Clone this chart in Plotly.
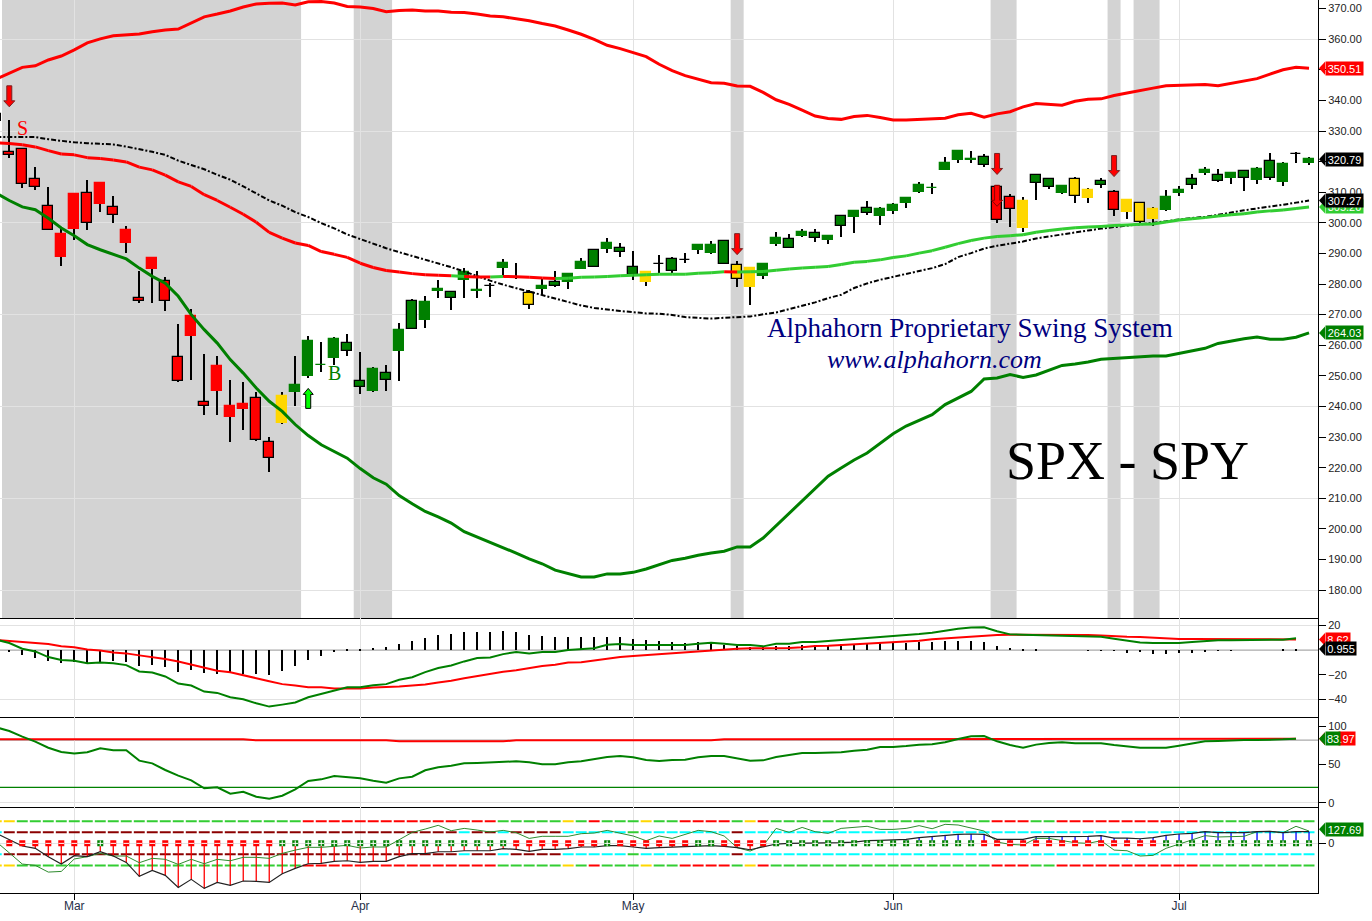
import plotly.graph_objects as go
from plotly.subplots import make_subplots

# bar numbers, -1 is the half hidden candle on the left edge
bars = list(range(-1, 101))
month_bars = [5, 27, 48, 68, 90]
month_names = ['Mar', 'Apr', 'May', 'Jun', 'Jul']

states = (['r'] * 22 + ['y'] + ['g'] * 15 + ['k', 'g', 'k', 'y'] + ['g'] * 8 + ['y', 'k', 'g', 'k'] + ['g'] * 3
          + ['y', 'y'] + ['g'] * 18 + ['r', 'r', 'y', 'g', 'g', 'g', 'y', 'y', 'g', 'r', 'y', 'y', 'y'] + ['g'] * 10 + ['k', 'g'])

opens = [335.5, 323.2, 324.1, 314.3, 305.5, 288.7, 298.1, 309.7, 306.0, 305.1, 293.3, 275.4, 284.8, 281.0, 256.2, 263.1,
         241.5, 245.2, 236.4, 239.3, 242.8, 228.4, 234.5, 244.8, 249.8, 253.4, 255.7, 260.7, 248.3, 245.2, 250.9, 258.0,
         274.4, 268.1, 277.6, 277.4, 281.2, 277.6, 279.4, 285.4, 282.1, 277.0, 278.5, 280.6, 280.7, 285.0, 291.2, 291.5,
         291.7, 285.5, 280.8, 286.6, 288.1, 287.8, 291.2, 290.3, 294.0, 286.2, 278.9, 282.5, 293.1, 294.7, 295.8, 296.8,
         294.5, 302.1, 302.0, 304.8, 302.3, 303.7, 306.6, 310.2, 311.3, 317.1, 320.4, 320.5, 321.4, 311.6, 308.4, 298.2,
         315.6, 314.3, 309.9, 314.3, 308.0, 313.7, 310.0, 303.4, 306.4, 301.4, 304.1, 309.6, 314.3, 316.3, 315.6, 314.5,
         316.9, 314.0, 320.1, 313.2, 322.4, 319.7]
highs = [336.0, 333.6, 324.6, 318.2, 311.7, 298.1, 309.5, 314.1, 313.4, 308.8, 299.0, 284.4, 288.8, 282.4, 266.9, 271.8,
         257.3, 256.6, 248.8, 247.9, 244.8, 230.0, 244.6, 256.6, 263.1, 261.1, 262.7, 263.8, 257.9, 253.0, 253.6, 267.2,
         275.1, 276.2, 281.4, 277.8, 285.2, 284.3, 280.3, 288.1, 286.8, 278.1, 281.6, 284.3, 283.6, 288.6, 291.4, 295.1,
         293.5, 290.9, 284.2, 289.4, 288.8, 290.1, 293.2, 294.0, 294.5, 287.5, 285.3, 286.6, 297.0, 296.3, 298.0, 298.0,
         295.8, 302.1, 303.9, 307.2, 305.1, 306.4, 308.6, 313.4, 313.1, 321.4, 323.5, 323.6, 322.5, 312.3, 309.5, 308.4,
         316.0, 314.6, 312.4, 314.9, 311.3, 314.6, 310.8, 307.9, 306.4, 305.1, 310.6, 312.1, 316.0, 318.1, 317.6, 316.6,
         317.3, 318.1, 322.7, 319.8, 323.1, 321.4]
lows = [333.0, 321.3, 311.5, 310.6, 297.5, 285.8, 294.5, 297.5, 303.4, 300.1, 290.3, 273.7, 273.7, 271.1, 247.9, 248.8,
        237.3, 237.3, 228.3, 232.4, 228.6, 218.5, 234.3, 240.1, 249.3, 251.1, 253.7, 256.4, 244.0, 244.8, 245.2, 248.2,
        265.3, 265.5, 275.5, 271.4, 275.5, 275.5, 275.8, 282.3, 281.6, 272.0, 276.4, 278.9, 278.5, 284.9, 285.5, 290.3,
        288.7, 281.4, 279.2, 283.6, 283.6, 287.0, 289.9, 289.9, 286.7, 278.9, 273.0, 281.6, 292.5, 291.9, 295.5, 293.6,
        293.2, 295.5, 296.8, 302.4, 299.4, 303.0, 305.0, 309.9, 309.3, 317.1, 319.7, 319.4, 318.2, 300.1, 298.5, 296.9,
        307.5, 311.0, 309.5, 306.6, 306.6, 311.5, 302.1, 301.4, 300.1, 298.8, 303.7, 308.9, 311.1, 315.5, 313.5, 312.7,
        310.5, 312.7, 314.0, 311.9, 319.5, 319.0]
closes = [333.4, 322.3, 312.6, 311.7, 297.5, 296.4, 309.5, 300.1, 313.1, 302.4, 297.7, 274.3, 288.6, 274.3, 248.2, 269.7,
          240.1, 253.3, 240.3, 240.9, 229.0, 223.1, 243.5, 247.1, 261.5, 253.6, 262.1, 258.1, 246.2, 252.3, 248.5, 264.9,
          265.3, 274.2, 278.5, 275.6, 284.0, 278.1, 279.5, 287.0, 281.9, 273.0, 279.4, 279.2, 283.4, 287.3, 285.7, 293.5,
          290.6, 283.0, 284.0, 286.7, 284.4, 287.9, 292.7, 292.7, 286.7, 281.8, 285.3, 286.6, 295.1, 291.9, 297.1, 294.9,
          295.8, 299.1, 303.9, 303.2, 304.5, 305.8, 308.2, 312.4, 311.4, 319.5, 323.5, 320.7, 319.0, 300.8, 304.5, 307.2,
          313.0, 311.6, 312.1, 308.7, 310.8, 312.3, 304.1, 307.5, 300.2, 304.5, 308.4, 310.8, 312.2, 317.3, 313.8, 316.2,
          314.5, 317.6, 314.8, 319.3, 322.5, 320.8]

upper_band = [347.0, 349.0, 350.8, 351.3, 353.2, 354.5, 356.5, 358.8, 360.1, 361.1, 361.4, 361.7, 362.4, 363.0, 363.3,
              365.3, 367.3, 368.2, 369.2, 370.5, 371.5, 371.7, 371.8, 371.2, 372.2, 372.3, 371.8, 370.7, 370.5, 370.0,
              369.0, 369.4, 369.5, 369.2, 369.2, 368.8, 368.7, 368.2, 367.6, 367.3, 366.7, 366.0, 365.1, 364.3, 363.0,
              361.6, 359.9, 358.0, 356.9, 355.7, 354.3, 351.8, 349.7, 348.1, 346.9, 345.8, 345.6, 344.7, 344.6, 342.6,
              340.2, 338.7, 336.8, 334.9, 334.1, 333.8, 334.7, 335.1, 334.4, 333.6, 333.6, 333.8, 334.2, 334.2, 335.3,
              335.8, 334.5, 335.6, 336.3, 337.9, 339.0, 338.6, 338.4, 339.7, 340.4, 340.5, 341.6, 342.4, 343.3, 344.0,
              344.8, 345.0, 345.2, 345.2, 344.8, 345.6, 346.2, 347.1, 348.6, 350.0, 350.8, 350.5]
lower_band = [309.7, 307.3, 305.2, 304.3, 301.5, 298.3, 295.8, 292.9, 291.2, 289.8, 288.2, 285.2, 282.5, 280.3, 276.0,
              270.0, 265.1, 260.7, 255.3, 250.9, 246.0, 241.7, 238.4, 234.1, 230.5, 227.5, 225.3, 223.1, 219.7, 216.7,
              214.6, 210.9, 208.2, 205.7, 203.9, 201.9, 199.1, 197.4, 195.7, 193.8, 192.1, 190.2, 188.6, 186.5, 185.3,
              184.3, 184.3, 185.3, 185.3, 185.8, 186.9, 188.2, 189.7, 190.4, 191.4, 192.1, 192.7, 194.1, 194.1, 197.0,
              201.1, 205.0, 209.3, 213.4, 217.2, 219.9, 222.5, 224.8, 228.1, 231.1, 233.6, 235.5, 237.3, 240.6, 242.8,
              244.9, 249.0, 249.3, 250.4, 249.5, 250.3, 251.9, 253.4, 253.9, 254.5, 255.4, 255.7, 255.8, 256.1, 256.5,
              256.5, 257.3, 258.0, 259.0, 260.6, 261.4, 262.1, 262.7, 262.0, 262.0, 262.6, 264.03]
mid_line = [326.1, 325.9, 325.5, 324.8, 323.6, 322.5, 322.2, 321.3, 321.0, 320.5, 319.9, 318.2, 317.3, 315.6, 313.4,
            311.9, 309.2, 307.3, 305.1, 302.8, 300.2, 296.9, 295.0, 293.4, 292.6, 290.6, 289.7, 288.7, 286.8, 285.4,
            284.4, 283.9, 283.4, 283.0, 282.9, 282.7, 282.5, 282.3, 282.3, 282.5, 282.4, 282.2, 282.0, 281.8, 281.9,
            282.2, 282.3, 282.5, 282.7, 282.9, 283.0, 283.2, 283.2, 283.2, 283.5, 283.7, 284.0, 283.9, 284.0, 284.1,
            284.5, 284.9, 285.2, 285.5, 285.7, 286.4, 287.1, 287.4, 287.9, 288.7, 289.2, 290.1, 290.9, 292.0, 293.2,
            294.2, 295.0, 295.5, 295.8, 296.1, 296.9, 297.5, 298.0, 298.4, 298.6, 298.8, 299.1, 299.3, 299.5, 299.6,
            300.3, 300.9, 301.3, 301.7, 302.2, 302.6, 303.0, 303.5, 303.9, 304.2, 304.7, 305.2]
mid_colors = ['r'] * 36 + ['l', 'r', 'r', 'l'] + ['r'] * 4 + ['l'] * 13 + ['r'] + ['l'] * 44
slow_line = [328.0, 328.0, 328.1, 328.0, 327.3, 326.7, 326.3, 326.0, 325.8, 325.6, 324.9, 324.1, 323.2, 322.2, 320.3,
             318.9, 317.5, 315.7, 314.1, 311.9, 309.5, 307.3, 305.6, 303.5, 301.9, 299.9, 298.2, 296.2, 294.7, 293.1,
             291.7, 290.4, 289.2, 288.0, 286.8, 285.5, 284.1, 282.5, 281.1, 279.8, 278.7, 277.6, 276.5, 275.3, 274.1,
             273.0, 272.2, 271.6, 271.2, 270.8, 270.4, 270.3, 269.9, 269.2, 268.9, 268.7, 269.0, 269.2, 269.4, 270.1,
             270.7, 271.8, 272.9, 274.0, 275.4, 276.5, 278.7, 280.2, 281.4, 282.3, 283.3, 284.3, 285.2, 286.5, 288.8,
             290.1, 291.6, 292.5, 293.1, 293.9, 294.9, 295.6, 296.2, 296.8, 297.5, 298.1, 298.7, 299.1, 299.5, 299.9,
             300.5, 301.1, 301.5, 302.0, 302.6, 303.4, 304.1, 304.7, 305.2, 305.9, 306.6, 307.27]

shade_from = [-0.56, 26.5, 55.5, 75.5, 84.5, 86.5]
shade_to = [22.45, 29.45, 56.5, 77.5, 85.5, 88.5]

sell_bars = [0, 56, 76, 85]
sell_tips = [337.9, 289.6, 315.8, 315.1]
second_sell_bar = 76
second_sell_tip = 305.4
buy_bar = 23
buy_tip = 245.9

macd = [8.4, 5.7, 1.1, -1.1, -5.7, -8.1, -8.7, -10.6, -10.0, -10.6, -12.2, -17.3, -18.2, -21.4, -27.1, -28.7, -33.6,
        -34.7, -38.2, -39.8, -43.1, -45.8, -44.2, -42.5, -38.2, -35.5, -32.2, -30.1, -30.1, -28.5, -27.6, -24.1, -22.0,
        -17.9, -14.6, -12.5, -9.2, -6.5, -6.0, -3.3, -1.6, -2.7, -1.6, -1.6, 0.0, 0.8, 1.4, 4.3, 4.9, 4.1, 4.1, 4.1,
        4.1, 4.1, 5.1, 6.0, 5.1, 4.1, 4.1, 3.0, 5.1, 5.1, 6.5, 6.5, 7.3, 8.1, 8.7, 9.5, 10.0, 11.1, 11.9, 13.0, 14.1,
        15.7, 17.3, 18.2, 18.4, 15.2, 12.7, 12.5, 12.2, 11.9, 11.1, 11.1, 10.8, 10.8, 9.2, 7.6, 6.2, 5.7, 5.7, 5.7, 6.5,
        7.3, 7.9, 7.9, 8.1, 8.4, 8.1, 8.4, 9.5]
macd_signal = [8.1, 7.3, 6.5, 5.7, 4.9, 3.0, 2.2, 0.5, -0.3, -1.9, -2.7, -4.3, -5.7, -7.3, -9.2, -11.9, -14.6, -16.8,
               -17.9, -20.1, -22.8, -25.2, -27.6, -28.7, -30.1, -30.1, -31.2, -31.2, -31.2, -30.4, -30.1, -29.5, -28.7,
               -27.9, -26.3, -24.9, -22.8, -20.9, -19.2, -17.6, -16.3, -14.6, -13.0, -11.9, -10.0, -9.8, -8.4, -7.3,
               -5.7, -4.9, -4.1, -3.3, -2.4, -1.6, -0.8, 0.0, 0.5, 1.1, 1.4, 1.4, 1.6, 1.6, 2.2, 3.3, 3.5, 4.1, 4.3,
               4.9, 5.7, 6.5, 6.8, 7.6, 8.7, 9.5, 10.0, 10.8, 11.7, 12.2, 12.5, 12.5, 12.5, 12.5, 12.5, 12.5, 12.2, 11.7,
               11.1, 10.8, 10.6, 10.0, 9.8, 8.9, 8.9, 8.9, 8.9, 8.9, 8.9, 8.9, 8.9, 8.7, 8.62]
macd_hist = [0.0, -1.4, -4.3, -6.0, -9.2, -10.8, -10.0, -10.6, -9.5, -8.7, -9.8, -12.5, -11.7, -13.3, -17.6, -16.5, -18.7,
             -19.0, -17.9, -19.2, -19.0, -20.1, -16.8, -12.5, -7.9, -4.6, -1.1, 0.5, 0.8, 1.9, 2.7, 5.1, 7.6, 10.0, 12.5,
             13.3, 14.9, 14.9, 14.9, 15.7, 14.9, 12.5, 11.7, 10.6, 10.6, 10.6, 10.6, 10.6, 10.6, 8.9, 8.1, 7.3, 6.5, 5.7,
             6.5, 6.5, 4.3, 3.5, 2.4, 2.4, 3.5, 3.5, 4.3, 4.3, 4.3, 4.9, 4.9, 4.9, 5.7, 5.7, 5.7, 6.2, 6.5, 7.0, 7.6, 7.6,
             6.8, 3.5, 1.9, 0.8, 0.8, 0.0, 0.0, 0.0, -0.3, -0.3, -0.4, -2.2, -1.9, -3.5, -3.5, -2.7, -2.7, -1.9, -0.4,
             -0.4, 0.0, 0.0, 0.0, 0.6, 0.955]

adx = [98.3, 93.5, 86.1, 79.6, 71.7, 66.1, 64.3, 65.7, 70.9, 68.3, 68.3, 54.8, 51.3, 42.6, 35.2, 29.1, 18.7, 20.0, 11.7,
       14.3, 7.8, 5.2, 9.1, 17.4, 28.3, 30.4, 34.8, 33.0, 31.7, 28.7, 26.1, 31.7, 33.9, 42.2, 46.1, 48.3, 51.3, 51.7,
       52.6, 52.6, 53.9, 52.6, 50.0, 50.0, 52.6, 53.9, 56.5, 59.6, 60.9, 59.1, 55.7, 54.3, 55.7, 56.1, 59.1, 60.9, 60.9,
       57.4, 54.8, 55.2, 59.6, 62.2, 64.8, 64.8, 65.7, 65.7, 67.8, 69.1, 72.6, 72.6, 73.9, 75.7, 76.1, 78.7, 83.0, 86.5,
       87.0, 80.0, 75.2, 71.7, 75.7, 77.8, 78.7, 77.4, 77.4, 77.4, 75.2, 73.9, 71.7, 71.7, 71.7, 74.3, 77.4, 80.0, 80.4,
       81.3, 81.7, 81.7, 81.7, 82.6, 83.5]
adx_level = [82.6] * 20 + [81.3] * 11 + [80.0] * 9 + [81.3] * 16 + [82.6] * 44 + [83.5]

cci_long = [91, 30, -24, -45, -121, -188, -112, -121, -76, -115, -173, -300, -245, -291, -400, -327, -409, -355, -382,
            -342, -345, -355, -276, -227, -185, -182, -164, -158, -173, -164, -164, -121, -94, -94, -76, -76, -67, -67,
            -67, -48, -55, -73, -55, -55, -48, -33, -33, -21, -21, -33, -45, -39, -33, -27, -21, -21, -27, -39, -58, -33,
            -6, 0, 0, 0, 0, 6, 12, 24, 27, 30, 36, 52, 61, 76, 82, 85, 82, 36, 36, 36, 61, 61, 61, 61, 64, 70, 48, 48, 42,
            52, 73, 85, 91, 106, 97, 97, 97, 106, 109, 97, 106, 106]
cci_short = [15, -91, -188, -200, -261, -255, -142, -121, -91, -115, -115, -176, -136, -145, -191, -145, -185, -145,
             -158, -127, -127, -136, -91, -61, -36, -36, -24, -18, -42, -33, -33, 36, 100, 130, 164, 115, 136, 121, 103,
             118, 97, 45, 64, 64, 64, 88, 94, 118, 91, 67, 24, 67, 45, 82, 118, 106, 67, -39, -70, -21, 136, 100, 145,
             106, 91, 136, 145, 155, 127, 127, 136, 161, 133, 173, 167, 142, 112, 12, -9, -15, 45, 45, 27, 6, 0, 24, -61,
             -67, -115, -109, -45, -6, 30, 70, 58, 61, 64, 106, 109, 97, 155, 112]
# + / - box on the zero line, from bar 0 on
cci_signs = ([-1] * 7 + [1] + [-1] * 13 + [1] * 18 + [-1] * 7 + [1] + [-1] * 6 + [1, 1] + [-1] * 4 + [1] * 16
             + [-1] * 14 + [1] * 12)
# colour of the dashes per bar
band200_colors = (['y'] * 2 + ['l'] * 22 + ['r'] * 15 + ['l'] * 5 + ['y', 'l', 'r'] + ['l'] * 3 + ['y', 'l', 'l']
                  + ['r'] * 4 + ['l', 'y', 'r'] + ['l'] * 17 + ['r'] * 3 + ['l', 'l'] + ['r'] * 11 + ['l'] * 9)
band100_colors = (['c'] + ['d'] * 35 + ['c', 'd', 'd', 'c'] + ['d'] * 4 + ['c'] * 5 + ['l'] + ['c'] * 7 + ['d']
                  + ['c'] * 44)

COLORS = {'r': '#ff0000', 'g': '#008000', 'y': '#ffd700', 'k': '#000000', 'l': '#32cd32', 'c': '#00ffff',
          'd': '#8b0000'}
GRID = '#e2e2e2'

fig = make_subplots(rows=4, cols=1, shared_xaxes=True, vertical_spacing=0)


def segments(xs, ys, colors, width, row):
    # one line per colour, broken where the colour changes
    for code in sorted(set(colors)):
        seg_x, seg_y = [], []
        for n in range(1, len(xs)):
            if colors[n] == code:
                seg_x += [xs[n - 1], xs[n], None]
                seg_y += [ys[n - 1], ys[n], None]
        fig.add_trace(go.Scatter(x=seg_x, y=seg_y, mode='lines', line=dict(color=COLORS[code], width=width)),
                      row=row, col=1)


def dashes(level, colors):
    for code in sorted(set(colors)):
        seg_x, seg_y = [], []
        for bar, col in zip(bars, colors):
            if col == code:
                seg_x += [bar - 0.42, bar + 0.42, None]
                seg_y += [level, level, None]
        fig.add_trace(go.Scatter(x=seg_x, y=seg_y, mode='lines', line=dict(color=COLORS[code], width=2)),
                      row=4, col=1)


# candles: wick first, then body. falling bars get a black border
fig.add_trace(go.Bar(x=bars, base=lows, y=[h - l for h, l in zip(highs, lows)], width=0.1,
                     marker=dict(color='black', line=dict(width=0))), row=1, col=1)
body_low = [min(o, c) for o, c in zip(opens, closes)]
body_size = [abs(o - c) for o, c in zip(opens, closes)]
fills = [COLORS[s] for s in states]
borders = ['black' if c < o else COLORS[s] for o, c, s in zip(opens, closes, states)]
fig.add_trace(go.Bar(x=bars, base=body_low, y=body_size, width=0.76,
                     marker=dict(color=fills, line=dict(color=borders, width=1.3))), row=1, col=1)

fig.add_trace(go.Scatter(x=bars, y=slow_line, mode='lines',
                         line=dict(color='black', width=2, dash='5px,2px,2px,2px')), row=1, col=1)
segments(bars, mid_line, mid_colors, 3, 1)
fig.add_trace(go.Scatter(x=bars, y=upper_band, mode='lines', line=dict(color='#ff0000', width=3)), row=1, col=1)
fig.add_trace(go.Scatter(x=bars, y=lower_band, mode='lines', line=dict(color='#008000', width=3)), row=1, col=1)

# macd panel
fig.add_trace(go.Bar(x=bars, y=macd_hist, width=0.14, marker=dict(color='black', line=dict(width=0))), row=2, col=1)
fig.add_trace(go.Scatter(x=bars, y=macd_signal, mode='lines', line=dict(color='#ff0000', width=2)), row=2, col=1)
fig.add_trace(go.Scatter(x=bars, y=macd, mode='lines', line=dict(color='#008000', width=2)), row=2, col=1)

# adx panel
fig.add_trace(go.Scatter(x=bars, y=adx_level, mode='lines', line=dict(color='#ff0000', width=2)), row=3, col=1)
fig.add_trace(go.Scatter(x=bars, y=adx, mode='lines', line=dict(color='#008000', width=2)), row=3, col=1)

# cci panel
for level in [200, -200]:
    dashes(level, band200_colors)
for level in [100, -100]:
    dashes(level, band100_colors)

stem_x = {'#ff0000': [], '#0000ff': []}
stem_y = {'#ff0000': [], '#0000ff': []}
for bar, val in zip(bars[1:], cci_long[1:]):
    col = '#ff0000' if val < 0 else '#0000ff'
    stem_x[col] += [bar, bar, None]
    stem_y[col] += [0, val, None]
for col in stem_x:
    fig.add_trace(go.Scatter(x=stem_x[col], y=stem_y[col], mode='lines', line=dict(color=col, width=1.3)),
                  row=4, col=1)
fig.add_trace(go.Scatter(x=bars, y=cci_short, mode='lines', line=dict(color='#2e8b2e', width=1)), row=4, col=1)
fig.add_trace(go.Scatter(x=bars, y=cci_long, mode='lines', line=dict(color='#222222', width=1.2)), row=4, col=1)

for sign, col, mark in [(1, '#008000', 'cross-thin'), (-1, '#ff0000', 'line-ew')]:
    box_x = [b for b, s in zip(bars[1:], cci_signs) if s == sign]
    fig.add_trace(go.Scatter(x=box_x, y=[0] * len(box_x), mode='markers',
                             marker=dict(symbol='square', size=6, color=col, line=dict(width=0))), row=4, col=1)
    fig.add_trace(go.Scatter(x=box_x, y=[0] * len(box_x), mode='markers',
                             marker=dict(symbol=mark, size=4, color='white', line=dict(color='white', width=1))),
                  row=4, col=1)

# shaded days
shapes = []
for start, end in zip(shade_from, shade_to):
    shapes.append(dict(type='rect', xref='x', yref='y domain', x0=start, x1=end, y0=0, y1=1, layer='below',
                       fillcolor='#d3d3d3', line=dict(width=0)))

# arrows are pixel sized, anchored on the bar
DOWN_ARROW = 'M 0 0 L -5.5 6 L -2.5 6 L -2.5 21 L 2.5 21 L 2.5 6 L 5.5 6 Z'
UP_ARROW = 'M 0 0 L -5 -6 L -2.5 -6 L -2.5 -20 L 2.5 -20 L 2.5 -6 L 5 -6 Z'
for bar, tip in zip(sell_bars, sell_tips):
    shapes.append(dict(type='path', xref='x', yref='y', xsizemode='pixel', ysizemode='pixel', xanchor=bar, yanchor=tip,
                       path=DOWN_ARROW, fillcolor='#ff0000', line=dict(color='#7a2020', width=1)))
shapes.append(dict(type='path', xref='x', yref='y', xsizemode='pixel', ysizemode='pixel', xanchor=second_sell_bar,
                   yanchor=second_sell_tip, path=DOWN_ARROW, fillcolor='#ff0000', line=dict(color='#8b0000', width=1)))
shapes.append(dict(type='path', xref='x', yref='y', xsizemode='pixel', ysizemode='pixel', xanchor=buy_bar,
                   yanchor=buy_tip, path=UP_ARROW, fillcolor='#00ff00', line=dict(color='black', width=1)))

# level lines in the lower panels
shapes.append(dict(type='line', xref='x2 domain', yref='y2', x0=0, x1=1, y0=0, y1=0, layer='below',
                   line=dict(color='#aaaaaa', width=1.3)))
shapes.append(dict(type='line', xref='x3 domain', yref='y3', x0=0, x1=1, y0=81.5, y1=81.5, layer='below',
                   line=dict(color='#aaaaaa', width=1.3)))
shapes.append(dict(type='line', xref='x3 domain', yref='y3', x0=0, x1=1, y0=20, y1=20,
                   line=dict(color='#008000', width=1.2)))

annotations = [
    dict(xref='x', yref='y', x=1.05, y=331, text='S', showarrow=False, font=dict(family='Liberation Serif', size=20, color='#ff0000')),
    dict(xref='x', yref='y', x=25, y=251, text='B', showarrow=False, font=dict(family='Liberation Serif', size=20, color='#008000')),
    dict(xref='x', yref='y', x=73.9, y=265.7, text='Alphahorn Proprietary Swing System', showarrow=False,
         font=dict(family='Liberation Serif', size=27, color='#000080')),
    dict(xref='x', yref='y', x=71.2, y=255.3, text='<i>www.alphahorn.com</i>', showarrow=False,
         font=dict(family='Liberation Serif', size=26, color='#000080')),
    dict(xref='x', yref='y', x=86, y=222.1, text='SPX - SPY', showarrow=False,
         font=dict(family='Liberation Serif', size=54, color='black')),
]


def value_tag(axis, value, text, bg, width=37, fg='white', shift=7):
    shapes.append(dict(type='path', xref='paper', yref=axis, xsizemode='pixel', ysizemode='pixel', xanchor=1,
                       yanchor=value, path='M 1 0 L 7 6.5 L 7 -6.5 Z', fillcolor=bg, line=dict(width=0)))
    annotations.append(dict(xref='paper', yref=axis, x=1, y=value, xanchor='left', xshift=shift, text=text,
                            showarrow=False, bgcolor=bg, width=width, height=13, borderpad=0, align='center',
                            font=dict(family='Liberation Sans', size=11, color=fg)))


value_tag('y', 350.51, '350.51', '#ff0000')
value_tag('y', 320.79, '320.79', '#000000')
value_tag('y', 305.2, '305.20', '#32cd32')
value_tag('y', 307.27, '307.27', '#000000')
value_tag('y', 264.03, '264.03', '#008000')
value_tag('y2', 8.62, '8.62', '#ff0000', width=24)
value_tag('y2', 0.955, '0.955', '#000000', width=30)
value_tag('y3', 83.5, '.97', '#ff0000', width=16, shift=20)
value_tag('y3', 83.5, '83', '#008000', width=14)
value_tag('y4', 127.69, '127.69', '#008000')

fig.update_xaxes(range=[-0.715, 100.69], showline=True, linecolor='black', linewidth=1, tickvals=month_bars,
                 ticktext=month_names, showgrid=True, gridcolor=GRID, gridwidth=1.3, zeroline=False, ticks='',
                 tickfont=dict(family='Liberation Sans', size=12, color='#27304a'))
fig.update_xaxes(ticks='outside', ticklen=6, tickcolor='black', ticklabelstandoff=-4, row=4, col=1)


def right_axis(low, high, tickvals, gridvals):
    return dict(side='right', range=[low, high], autorange=False, showline=True, linecolor='black', linewidth=1,
                ticks='outside', ticklen=7, tickcolor='black', tickvals=tickvals, showgrid=False, zeroline=False,
                tickfont=dict(family='Liberation Sans', size=11, color='#222222'),
                minor=dict(tickvals=gridvals, showgrid=True, gridcolor=GRID, gridwidth=1.3, ticks=''))


price_ticks = [180, 190, 200, 210, 220, 230, 240, 250, 260, 270, 280, 290, 300, 310, 320, 330, 340, 350, 360, 370]
layout_price = right_axis(170.9, 372.8, price_ticks, [180, 210, 240, 270, 300, 330, 360])
layout_price['tickformat'] = '.2f'
layout_price['domain'] = [0.308, 1]
layout_macd = right_axis(-54, 26, [-40, -20, 20], [-40, 20])
layout_macd['domain'] = [0.1974, 0.308]
layout_adx = right_axis(-6, 112.1, [0, 50, 100], [0])
layout_adx['domain'] = [0.096, 0.1974]
layout_cci = right_axis(-451, 328, [0], [0])
layout_cci['domain'] = [0, 0.096]

fig.update_layout(width=1372, height=921, autosize=False, margin=dict(l=0, r=54, t=0, b=28), showlegend=False,
                  plot_bgcolor='white', paper_bgcolor='white', barmode='overlay', bargap=0, shapes=shapes,
                  annotations=annotations, yaxis=layout_price, yaxis2=layout_macd, yaxis3=layout_adx,
                  yaxis4=layout_cci)

fig.write_html("out.html", config={'displayModeBar': False}, post_script="document.body.style.margin='0';")
